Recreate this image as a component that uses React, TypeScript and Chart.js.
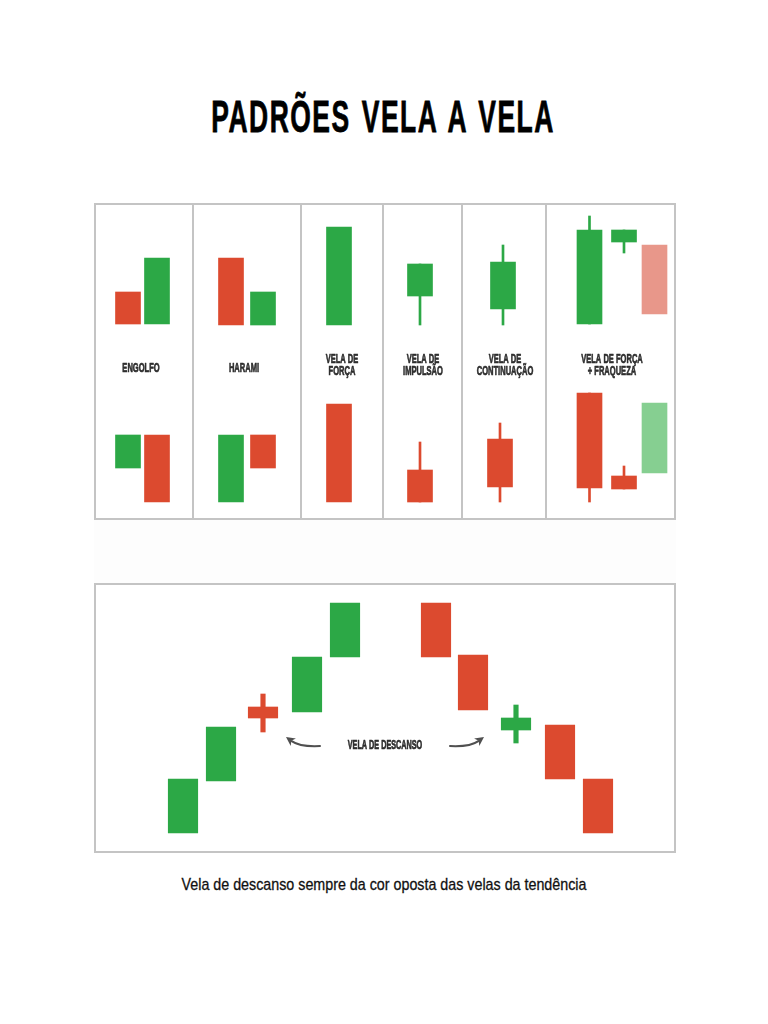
import React, { useEffect, useRef } from "react";
import { Chart, registerables } from "chart.js";

Chart.register(...registerables);

// ---------- colours ----------
const GREEN = "#2ca846";
const RED = "#dc4a2f";
const GREEN_FADED = "#86cf91";
const RED_FADED = "#e8978a";
const BORDER = "#c4c4c4";
const LABEL = "#2e2e2e";
const ARROW = "#505050";

// ---------- top panel: pattern candles (time, open, close, high, low) ----------
const topTime = [34, 63, 34, 63, 137, 169, 137, 169, 245, 245, 326, 326, 409, 406, 495.5, 530, 560.5, 495.5, 530, 560.5];
const topOpen = [228, 196, 52, 85, 262, 195, 18, 85, 195, 116, 224, 50, 211, 81, 196, 278, 275, 127, 44, 47];
const topClose = [196, 262, 85, 18, 195, 228, 85, 52, 293, 18, 256, 18, 258, 33, 290, 290, 206, 32, 31, 117];
const topHigh = [228, 262, 85, 85, 262, 228, 85, 85, 293, 116, 256, 78, 275, 97, 304, 290, 275, 127, 54, 117];
const topLow = [196, 196, 52, 18, 195, 195, 18, 52, 195, 18, 195, 18, 195, 18, 196, 267, 206, 18, 31, 47];
const topFaded = [false, false, false, false, false, false, false, false, false, false, false, false, false, false, false, false, true, false, false, true];

// column separators and pattern names
const topDividers = [99, 207, 289, 368, 452];
const topLabelTime = [47, 150, 248, 329, 411, 518];
const topLabels = [
  ["ENGOLFO"],
  ["HARAMI"],
  ["VELA DE", "FORÇA"],
  ["VELA DE", "IMPULSÃO"],
  ["VELA DE", "CONTINUAÇÃO"],
  ["VELA DE FORÇA", "+ FRAQUEZA"],
];

// ---------- bottom panel: trend with rest candles ----------
const botTime = [89, 127, 169, 213, 251, 342, 379, 422, 466, 504];
const botOpen = [20, 72, 146, 141, 196, 250, 198, 123, 128, 74];
const botClose = [74, 126, 135, 196, 250, 196, 143, 135, 74, 20];
const botHigh = [74, 126, 159, 196, 250, 250, 198, 148, 128, 74];
const botLow = [20, 72, 121, 141, 196, 196, 143, 110, 74, 20];
const botFaded = [false, false, false, false, false, false, false, false, false, false];

const restLabel = "VELA DE DESCANSO";
const restLabelAt = [291, 107];
// arrows: [tail, control, tip] in chart units
const restArrows = [
  [[226, 107], [206, 106], [192, 116]],
  [[356, 107], [376, 106], [390, 116]],
];

function candleColor(o: number, c: number, faded: boolean) {
  if (faded) return c >= o ? GREEN_FADED : RED_FADED;
  return c >= o ? GREEN : RED;
}

function drawCondensed(ctx: CanvasRenderingContext2D, text: string, cx: number, cy: number, size: number, sx: number, color: string) {
  ctx.save();
  ctx.translate(cx, cy);
  ctx.scale(sx, 1);
  ctx.font = `bold ${size}px "Liberation Sans", Arial, sans-serif`;
  ctx.textAlign = "center";
  ctx.textBaseline = "middle";
  ctx.fillStyle = color;
  ctx.strokeStyle = color;
  ctx.lineWidth = 0.7;
  ctx.lineJoin = "round";
  ctx.fillText(text, 0, 0);
  ctx.strokeText(text, 0, 0);
  ctx.restore();
}

function panelBackground(chart: any, dividers: number[]) {
  const { ctx, chartArea, scales } = chart;
  const { left, top, right, bottom } = chartArea;
  ctx.save();
  ctx.fillStyle = "#ffffff";
  ctx.fillRect(left, top, right - left, bottom - top);
  ctx.strokeStyle = BORDER;
  ctx.lineWidth = 2;
  ctx.strokeRect(left + 1, top + 1, right - left - 2, bottom - top - 2);
  dividers.forEach((d) => {
    const px = Math.round(scales.x.getPixelForValue(d));
    ctx.beginPath();
    ctx.moveTo(px, top);
    ctx.lineTo(px, bottom);
    ctx.stroke();
  });
  ctx.restore();
}

function buildCandleConfig(
  time: number[], open: number[], close: number[], high: number[], low: number[], faded: boolean[],
  bodyWidth: number, wickWidth: number, xMax: number, yMax: number, plugin: any
) {
  const bodies = time.map((t, i) => ({ x: t, y: [open[i], close[i]] }));
  const bodyColors = time.map((_, i) => candleColor(open[i], close[i], faded[i]));
  const wickIdx = time.map((_, i) => i).filter((i) => high[i] > Math.max(open[i], close[i]) || low[i] < Math.min(open[i], close[i]));
  const wicks = wickIdx.map((i) => ({ x: time[i], y: [low[i], high[i]] }));
  const wickColors = wickIdx.map((i) => candleColor(open[i], close[i], faded[i]));
  return {
    type: "bar" as const,
    data: {
      datasets: [
        { label: "body", data: bodies, backgroundColor: bodyColors, barThickness: bodyWidth, grouped: false, borderWidth: 0 },
        { label: "wick", data: wicks, backgroundColor: wickColors, barThickness: wickWidth, grouped: false, borderWidth: 0 },
      ],
    },
    options: {
      animation: false,
      responsive: false,
      events: [],
      layout: { padding: 0 },
      plugins: { legend: { display: false }, tooltip: { enabled: false } },
      scales: {
        x: { type: "linear", min: 0, max: xMax, display: false, offset: false },
        y: { type: "linear", min: 0, max: yMax, display: false },
      },
    },
    plugins: [plugin],
  };
}

const topPlugin = {
  id: "topPanel",
  beforeDraw(chart: any) {
    panelBackground(chart, topDividers);
  },
  afterDatasetsDraw(chart: any) {
    const { ctx, scales } = chart;
    topLabels.forEach((lines, i) => {
      const cx = scales.x.getPixelForValue(topLabelTime[i]);
      if (lines.length === 1) {
        drawCondensed(ctx, lines[0], cx, scales.y.getPixelForValue(152), 13, 0.58, LABEL);
      } else {
        drawCondensed(ctx, lines[0], cx, scales.y.getPixelForValue(161), 13, 0.58, LABEL);
        drawCondensed(ctx, lines[1], cx, scales.y.getPixelForValue(149), 13, 0.58, LABEL);
      }
    });
  },
};

const botPlugin = {
  id: "botPanel",
  beforeDraw(chart: any) {
    panelBackground(chart, []);
  },
  afterDatasetsDraw(chart: any) {
    const { ctx, scales } = chart;
    const px = (p: number[]) => [scales.x.getPixelForValue(p[0]), scales.y.getPixelForValue(p[1])];
    const [lx, ly] = px(restLabelAt);
    drawCondensed(ctx, restLabel, lx, ly, 12.5, 0.58, LABEL);
    restArrows.forEach((a) => {
      const [t, c, e] = a.map(px);
      const dx = e[0] - c[0];
      const dy = e[1] - c[1];
      const len = Math.hypot(dx, dy);
      const ux = dx / len, uy = dy / len;
      const headLen = 9, headHalf = 4.5;
      const bx = e[0] - ux * headLen, by = e[1] - uy * headLen;
      ctx.save();
      ctx.strokeStyle = ARROW;
      ctx.fillStyle = ARROW;
      ctx.lineWidth = 2;
      ctx.lineCap = "round";
      ctx.beginPath();
      ctx.moveTo(t[0], t[1]);
      ctx.quadraticCurveTo(c[0], c[1], bx + ux * 2, by + uy * 2);
      ctx.stroke();
      ctx.beginPath();
      ctx.moveTo(e[0], e[1]);
      ctx.lineTo(bx - uy * headHalf, by + ux * headHalf);
      ctx.lineTo(bx + ux * 2.5, by + uy * 2.5);
      ctx.lineTo(bx + uy * headHalf, by - ux * headHalf);
      ctx.closePath();
      ctx.fill();
      ctx.restore();
    });
  },
};

export default function App() {
  const topRef = useRef<HTMLCanvasElement>(null);
  const botRef = useRef<HTMLCanvasElement>(null);

  useEffect(() => {
    const top = new Chart(
      topRef.current as HTMLCanvasElement,
      buildCandleConfig(topTime, topOpen, topClose, topHigh, topLow, topFaded, 25, 2, 582, 317, topPlugin) as any
    );
    const bot = new Chart(
      botRef.current as HTMLCanvasElement,
      buildCandleConfig(botTime, botOpen, botClose, botHigh, botLow, botFaded, 29.5, 4.5, 582, 270, botPlugin) as any
    );
    return () => {
      top.destroy();
      bot.destroy();
    };
  }, []);

  return (
    <div style={{ position: "absolute", left: 0, top: 0, width: 768, height: 1024, background: "#ffffff", overflow: "hidden" }}>
      <div style={{ position: "absolute", left: 0, top: 95, width: 766, textAlign: "center" }}>
        <span
          style={{
            display: "inline-block",
            fontFamily: '"Liberation Sans", Arial, sans-serif',
            fontWeight: 700,
            fontSize: 44.7,
            lineHeight: 1,
            whiteSpace: "nowrap",
            color: "#000",
            letterSpacing: "2.5px",
            wordSpacing: "4px",
            transform: "scaleX(0.592)",
            WebkitTextStroke: "0.8px #000",
          }}
        >
          PADRÕES VELA A VELA
        </span>
      </div>
      <canvas ref={topRef} width={582} height={317} style={{ position: "absolute", left: 94, top: 203, width: 582, height: 317, display: "block" }} />
      <div style={{ position: "absolute", left: 94, top: 520, width: 582, height: 63, background: "#fdfdfd" }} />
      <canvas ref={botRef} width={582} height={270} style={{ position: "absolute", left: 94, top: 583, width: 582, height: 270, display: "block" }} />
      <div style={{ position: "absolute", left: 0, top: 876, width: 767, textAlign: "center" }}>
        <span
          style={{
            display: "inline-block",
            fontFamily: '"Liberation Sans", Arial, sans-serif',
            fontWeight: 400,
            fontSize: 17,
            lineHeight: 1,
            whiteSpace: "nowrap",
            color: "#111",
            transform: "scaleX(0.84)",
            WebkitTextStroke: "0.3px #111",
          }}
        >
          Vela de descanso sempre da cor oposta das velas da tendência
        </span>
      </div>
    </div>
  );
}
